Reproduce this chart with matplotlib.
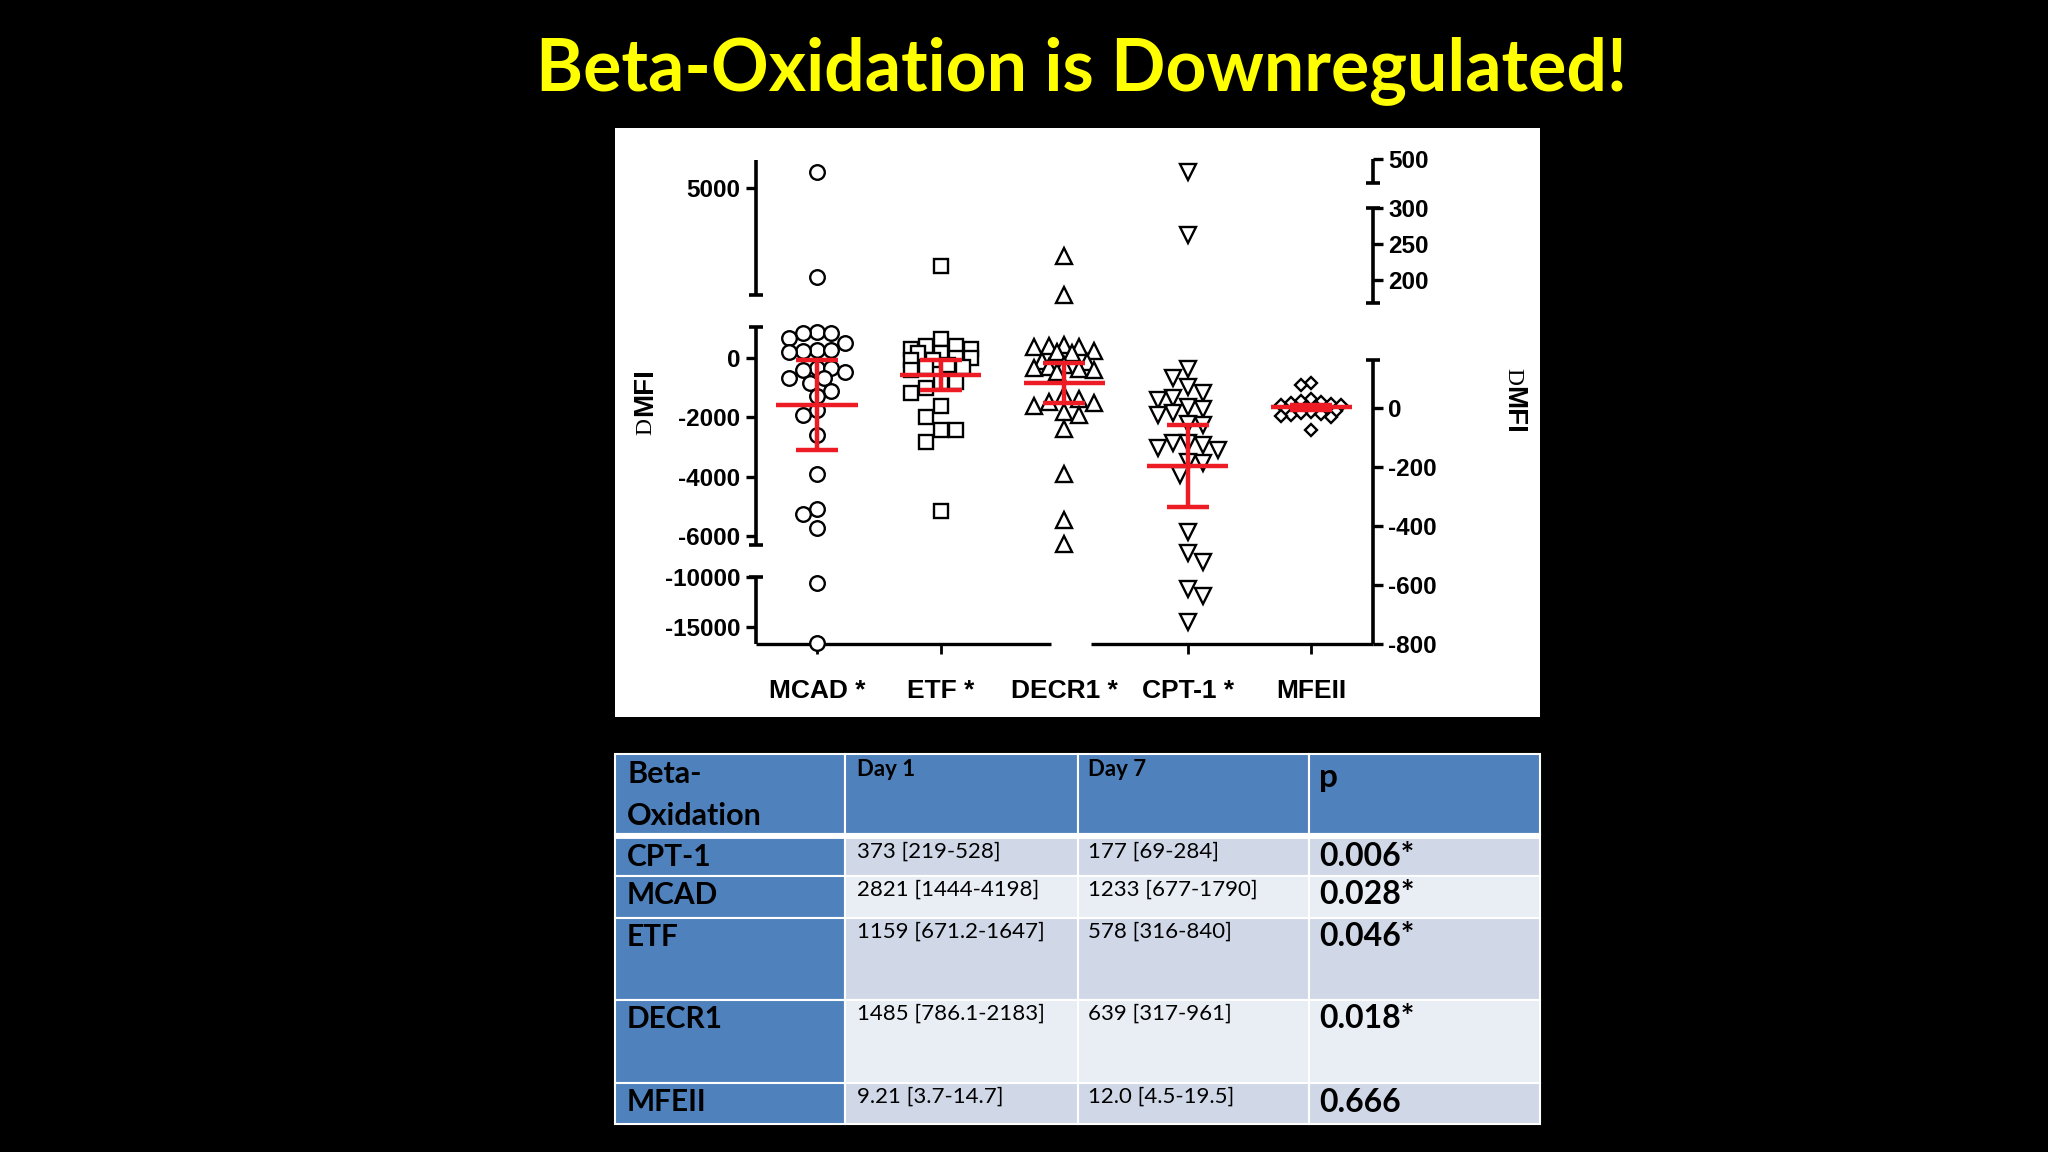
import numpy as np
import matplotlib
matplotlib.use("Agg")
import matplotlib.pyplot as plt
from matplotlib.patches import Rectangle
from matplotlib.transforms import blended_transform_factory as blend

W, H = 2048, 1152

# ---- data ----
groups = ['MCAD *', 'ETF *', 'DECR1 *', 'CPT-1 *', 'MFEII']
mcad = [5575, 1760, 874, 830, 820, 652, 494, 259, 259, 235, 202, -356, -356, -413, -470,
        -692, -692, -860, -1119, -1287, -1758, -1926, -2598, -3921, -5086, -5264, -5735,
        -10600, -16600]
etf = [2160, 618, 393, 393, 292, 292, 148, 148, -20, -20, -77, -77, -245, -323, -323, -400,
       -807, -807, -1029, -1197, -1624, -1983, -2430, -2430, -2824, -5143]
decr1 = [2515, 1100, 427, 393, 350, 350, 235, 202, 148, -101, -134, -245, -303, -356, -390,
         -413, -471, -1254, -1388, -1479, -1513, -1624, -1815, -1926, -2407, -3919, -5455, -6272]
cpt1 = [478, 262, 132, 102, 73, 53, 34, 28, 5, -3, -17, -23, -53, -57, -119, -119, -125, -136,
        -142, -181, -187, -226, -419, -492, -521, -614, -637, -724]
mfeii = [85, 79, 30, 25, 22, 18, 15, 12, 10, 6, 3, 0, -3, -6, -10, -12, -15, -18, -22, -25, -30, -74]
means = [-1588, -581, -846, -196, 3]
errs = [1500, 500, 670, 138, 8]

left_ticks = [5000, 0, -2000, -4000, -6000, -10000, -15000]
right_ticks = [500, 300, 250, 200, 0, -200, -400, -600, -800]

# broken axes: value -> pixel row on the slide
left_vals = [-16670, -10000, -6300, 1030, 1100, 6000, 6200]
left_pix = [644, 577.3, 545.1, 327, 295, 160, 155]
left_segs = [(-16670, -10000), (-6300, 1030), (1100, 6000)]
left_caps = [-10000, -6300, 1030, 1100]
right_vals = [-800, 164, 168, 300, 460, 500, 507]
right_pix = [644, 360, 303, 208, 183, 159, 155]
right_segs = [(-800, 164), (168, 300), (460, 500)]
right_caps = [164, 168, 300, 460]

# table
tbl_head = ['Beta-\nOxidation', 'Day 1', 'Day 7', 'p']
tbl_rows = ['CPT-1', 'MCAD', 'ETF', 'DECR1', 'MFEII']
day1 = ['373 [219-528]', '2821 [1444-4198]', '1159 [671.2-1647]', '1485 [786.1-2183]', '9.21 [3.7-14.7]']
day7 = ['177 [69-284]', '1233 [677-1790]', '578 [316-840]', '639 [317-961]', '12.0 [4.5-19.5]']
pvals = ['0.006*', '0.028*', '0.046*', '0.018*', '0.666']

RED = '#ED1C24'
plt.rcParams['font.family'] = ['Liberation Sans', 'DejaVu Sans']
plt.rcParams['font.weight'] = 'bold'


def px(x, y):
    return x / W, 1 - y / H


def make_scale(vals, pix):
    up = [H - p for p in pix]
    return (lambda v: np.interp(v, vals, up)), (lambda u: np.interp(u, up, vals))


def swarm(a, x0, vals, size_px, half_px):
    vals = np.asarray(vals, float)
    ypix = a.transData.transform(np.column_stack([np.full(len(vals), x0), vals]))[:, 1]
    step = size_px / 2
    base = [0.0]
    k = 1
    while k * step <= half_px:
        base += [k * step, -k * step]
        k += 1
    xs = np.zeros(len(vals))
    placed = []
    for n, i in enumerate(np.argsort(-vals)):
        cands = base if n % 2 == 0 else [-c for c in base]
        best, best_d = 0.0, -1
        for c in cands:
            d = min([np.hypot(c - p, ypix[i] - q) for p, q in placed], default=np.inf)
            if d >= size_px:
                best = c
                break
            if d > best_d:
                best, best_d = c, d
        placed.append((best, ypix[i]))
        xs[i] = best
    unit = a.transData.transform([[1, 0]])[0, 0] - a.transData.transform([[0, 0]])[0, 0]
    return x0 + xs / unit


fig = plt.figure(figsize=(W / 100, H / 100), dpi=100, facecolor='black')

# title
fig.text(*px(1082, 71), 'Beta-Oxidation is Downregulated!', color='#FFFF00', fontsize=51.5,
         family='Lato', weight='bold', ha='center', va='center')

# white chart panel
fig.add_artist(Rectangle(px(615, 717), 925 / W, 589 / H, transform=fig.transFigure,
                         facecolor='white', edgecolor='none', zorder=-1))

ax = fig.add_axes([755.7 / W, (H - 644) / H, (1373 - 755.7) / W, (644 - 155) / H])
ax.set_facecolor('none')
ax.set_yscale('function', functions=make_scale(left_vals, left_pix))
ax.set_ylim(left_vals[0], left_vals[-1])
ax.set_xlim(-0.496, 4.498)
ax2 = ax.twinx()
ax2.set_yscale('function', functions=make_scale(right_vals, right_pix))
ax2.set_ylim(right_vals[0], right_vals[-1])
for a in (ax, ax2):
    for s in a.spines.values():
        s.set_visible(False)

ax.set_yticks(left_ticks, labels=[str(t) for t in left_ticks])
ax2.set_yticks(right_ticks, labels=[str(t) for t in right_ticks])
for a in (ax, ax2):
    a.tick_params(axis='y', direction='out', length=7, width=2.4, pad=4, labelsize=17.5)
ax.set_xticks([0, 1, 3, 4], labels=[groups[i] for i in (0, 1, 3, 4)])
ax.set_xticks([2], labels=[groups[2]], minor=True)
ax.tick_params(axis='x', which='major', direction='out', length=7.2, width=2, pad=18, labelsize=19)
ax.tick_params(axis='x', which='minor', length=0, pad=25.2, labelsize=19)

# broken spines
trl = blend(ax.transAxes, ax.transData)
trr = blend(ax2.transAxes, ax2.transData)
for lo, hi in left_segs:
    ax.plot([0, 0], [lo, hi], transform=trl, color='k', lw=2.6, clip_on=False, solid_capstyle='butt')
ax.plot([0] * len(left_caps), left_caps, transform=trl, ls='none', marker='_', ms=10, mew=2.6,
        color='k', clip_on=False)
for lo, hi in right_segs:
    ax2.plot([1, 1], [lo, hi], transform=trr, color='k', lw=2.6, clip_on=False, solid_capstyle='butt')
ax2.plot([1] * len(right_caps), right_caps, transform=trr, ls='none', marker='_', ms=10, mew=2.6,
         color='k', clip_on=False)
trx = blend(ax.transData, ax.transAxes)
x0, x1 = ax.get_xlim()
ax.plot([x0, 1.89], [0, 0], transform=trx, color='k', lw=2.4, clip_on=False, solid_capstyle='butt')
ax.plot([2.22, x1], [0, 0], transform=trx, color='k', lw=2.4, clip_on=False, solid_capstyle='butt')

# points
series = [(ax, mcad, 'o', 10.5, 14), (ax, etf, 's', 10.5, 15), (ax, decr1, '^', 11, 15),
          (ax2, cpt1, 'v', 11, 15), (ax2, mfeii, 'D', 6.5, 10)]
for i, (a, vals, mk, ms, size_px) in enumerate(series):
    xs = swarm(a, i, vals, size_px, 33)
    a.plot(xs, vals, ls='none', marker=mk, ms=ms, mfc='white', mec='k', mew=1.7,
           clip_on=False, zorder=3)
    m, e = means[i], errs[i]
    a.hlines(m, i - 0.328, i + 0.328, color=RED, lw=3.2, zorder=4)
    a.hlines([m - e, m + e], i - 0.17, i + 0.17, color=RED, lw=3.2, zorder=4)
    a.vlines(i, m - e, m + e, color=RED, lw=3.2, zorder=4)

# y labels (the delta renders as a serif D on the slide)
fig.text(*px(645, 392), 'MFI', rotation=90, fontsize=20, ha='center', va='center')
fig.text(*px(646, 426), 'D', rotation=90, fontsize=17, family='Liberation Serif',
         weight='normal', ha='center', va='center')
fig.text(*px(1513, 410), 'MFI', rotation=-90, fontsize=20, ha='center', va='center')
fig.text(*px(1513, 376), 'D', rotation=-90, fontsize=17, family='Liberation Serif',
         weight='normal', ha='center', va='center')

# table
col_x = [615, 845, 1077.5, 1308.6, 1540]
row_y = [754, 834, 876, 918, 1000, 1083, 1124]
BLUE = '#4F81BD'
shades = ['#D0D8E8', '#E9EDF4']
for r in range(len(row_y) - 1):
    for c in range(len(col_x) - 1):
        fc = BLUE if (r == 0 or c == 0) else shades[(r - 1) % 2]
        fig.add_artist(Rectangle(px(col_x[c], row_y[r + 1]), (col_x[c + 1] - col_x[c]) / W,
                                 (row_y[r + 1] - row_y[r]) / H, transform=fig.transFigure,
                                 facecolor=fc, edgecolor='white', lw=1.5))
fig.add_artist(plt.Line2D([col_x[0] / W, col_x[-1] / W], [1 - 836 / H] * 2, color='white', lw=3.5,
                          solid_capstyle='butt', transform=fig.transFigure))

tf = dict(family='Lato', color='black', ha='left', va='center')
fig.text(*px(627, 795), tbl_head[0], fontsize=22, weight='bold', linespacing=1.6, **tf)
fig.text(*px(857, 769), tbl_head[1], fontsize=16, weight='bold', **tf)
fig.text(*px(1088, 769), tbl_head[2], fontsize=16, weight='bold', **tf)
fig.text(*px(1319, 778), tbl_head[3], fontsize=24, weight='bold', **tf)
for r, name in enumerate(tbl_rows):
    top = row_y[r + 1] + (4 if r == 0 else 0)
    fig.text(*px(627, top + 19), name, fontsize=21.5, weight='bold', **tf)
    fig.text(*px(857, top + 14), day1[r], fontsize=16, weight='normal', **tf)
    fig.text(*px(1088, top + 14), day7[r], fontsize=16, weight='normal', **tf)
    fig.text(*px(1319, top + 19), pvals[r], fontsize=23, weight='bold', **tf)

fig.savefig('out.png', dpi=100, facecolor='black')
